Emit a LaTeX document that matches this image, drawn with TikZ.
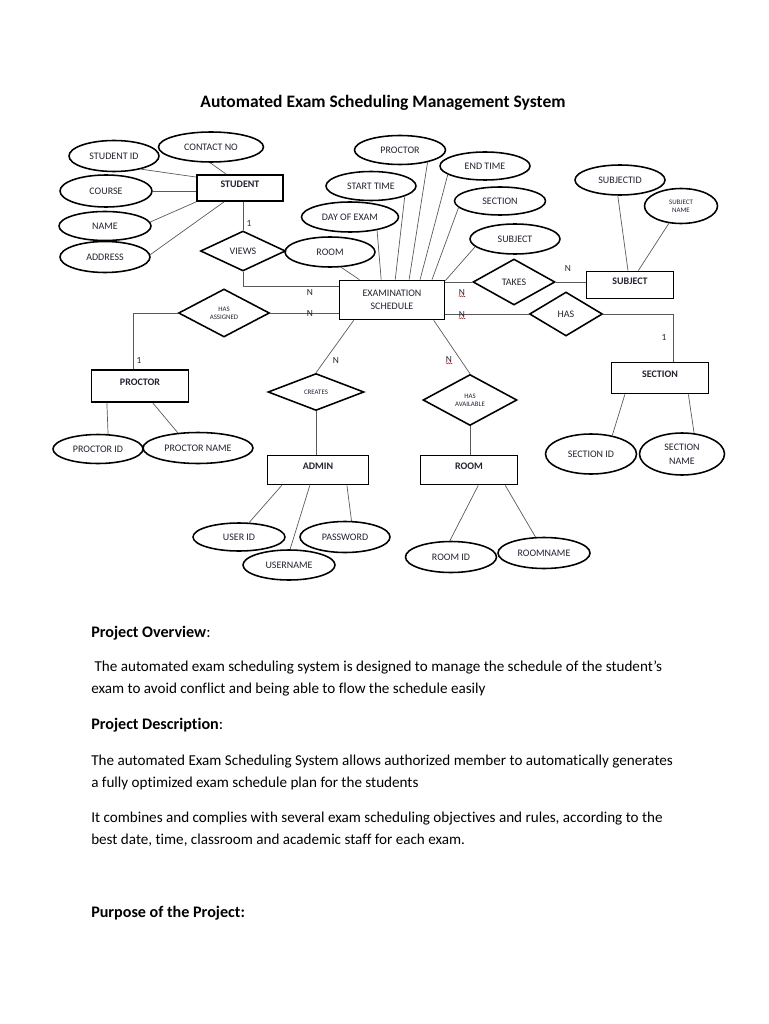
\documentclass[tikz,border=0pt]{standalone}
\usepackage{fontspec}
\setmainfont{Carlito}[Ligatures=NoCommon]
\usetikzlibrary{shapes.geometric,decorations.pathmorphing}
\definecolor{ink}{RGB}{35,35,50}
\newcommand{\attrfont}{\fontsize{8}{9.5}\selectfont}
\newcommand{\minifont}{\fontsize{5.5}{6.5}\selectfont}
\newcommand{\bodyfont}{\fontsize{12.1}{14}\selectfont}
\newcommand{\headfont}{\fontsize{12.9}{15}\selectfont}

\begin{document}
\begin{tikzpicture}[x=0.8pt,y=-0.8pt,
    sz/.style 2 args={minimum width=#1*0.8pt,minimum height=#2*0.8pt},
    ent/.style={draw, line width=1.4pt, inner sep=0pt, text=ink},
    entity/.style={ent, font=\bfseries\attrfont, text height=5.3pt, text depth=5.8pt},
    attr/.style={draw, ellipse, line width=1.25pt, inner sep=0pt, text=ink, font=\attrfont},
    rel/.style={draw, diamond, line width=1.25pt, inner sep=0pt, text=ink, font=\attrfont},
    link/.style={draw=black!65, line width=0.55pt},
    card/.style={inner sep=0pt, text=ink, font=\fontsize{7.5}{8}\selectfont},
    spell/.style={draw=red!85!black, line width=0.35pt, decorate,
        decoration={snake, amplitude=0.45pt, segment length=1.6pt}},
    body/.style={anchor=base west, inner sep=0pt, font=\bodyfont},
    head/.style={anchor=base west, inner sep=0pt, font=\headfont}]

    \fill[white] (0,0) rectangle (768,1024);
    \useasboundingbox (0,0) rectangle (768,1024);

    \node[font=\bfseries\fontsize{14}{16}\selectfont] (title) at (383,103)
        {Automated Exam Scheduling Management System};

    % entities
    \node[entity, sz={86}{26}] (student) at (240,188) {STUDENT};
    \node[ent, sz={105}{39}, font=\fontsize{8}{10.4}\selectfont, align=center]
        (exam) at (392,300) {EXAMINATION\\SCHEDULE};
    \node[entity, sz={87}{27}] (subject) at (630,285) {SUBJECT};
    \node[entity, sz={97}{32}] (proctor) at (140,386) {PROCTOR};
    \node[entity, sz={97}{31}] (section) at (660,378) {SECTION};
    \node[entity, sz={101}{29}] (admin) at (318,470) {ADMIN};
    \node[entity, sz={97}{29}] (room) at (469,470) {ROOM};

    % relationships
    \node[rel, sz={85}{40}] (views) at (243,251) {VIEWS};
    \node[rel, sz={91}{48}, font=\minifont, align=center] (assigned) at (224,313) {HAS\\ASSIGNED};
    \node[rel, sz={82}{46}] (takes) at (514,282) {TAKES};
    \node[rel, sz={73}{44}] (has) at (566,314) {HAS};
    \node[rel, sz={96}{37}, font=\minifont] (creates) at (316,392) {CREATES};
    \node[rel, sz={94}{51}, font=\minifont, align=center] (avail) at (470,400) {HAS\\AVAILABLE};

    % attributes
    \node[attr, sz={90}{31}] (sid) at (114,156) {STUDENT ID};
    \node[attr, sz={105}{30}] (cno) at (211,147) {CONTACT NO};
    \node[attr, sz={92}{32}] (course) at (106,191) {COURSE};
    \node[attr, sz={92}{29}] (name) at (105,226) {NAME};
    \node[attr, sz={90}{31}] (address) at (105,257) {ADDRESS};
    \node[attr, sz={91}{29}] (eproctor) at (400,150) {PROCTOR};
    \node[attr, sz={90}{28}] (etime) at (485,166) {END TIME};
    \node[attr, sz={90}{29}] (stime) at (371,186) {START TIME};
    \node[attr, sz={91}{28}] (esection) at (500,201) {SECTION};
    \node[attr, sz={97}{30}] (day) at (350,217) {DAY OF EXAM};
    \node[attr, sz={90}{30}] (esubject) at (515,239) {SUBJECT};
    \node[attr, sz={90}{30}] (eroom) at (330,252) {ROOM};
    \node[attr, sz={90}{30}] (subid) at (620,180) {SUBJECTID};
    \node[attr, sz={73}{35}, font=\minifont, align=center] (subname) at (681,206) {SUBJECT\\NAME};
    \node[attr, sz={90}{29}] (pid) at (98,449) {PROCTOR ID};
    \node[attr, sz={110}{31}] (pname) at (198,448) {PROCTOR NAME};
    \node[attr, sz={91}{40}] (secid) at (591,454) {SECTION ID};
    \node[attr, sz={85}{42}, font=\fontsize{8}{11}\selectfont, align=center] (secname) at (682,454) {SECTION\\NAME};
    \node[attr, sz={92}{28}] (uid) at (239,537) {USER ID};
    \node[attr, sz={92}{30}] (uname) at (289,565) {USERNAME};
    \node[attr, sz={90}{31}] (pwd) at (345,537) {PASSWORD};
    \node[attr, sz={91}{31}] (rid) at (451,557) {ROOM ID};
    \node[attr, sz={92}{31}] (rname) at (544,553) {ROOMNAME};

    % student side
    \draw[link] (sid.-26) -- (student.166);
    \draw[link] (cno.-93) -- (student.135);
    \draw[link] (course) -- (course -| student.west);
    \draw[link] (name.5) -- (student.south west);
    \draw[link] (address.3) -- (student.221);
    \draw[link] (student.south -| views.north) -- (views.north);
    \draw[link] (views.south) |- (exam.166);

    % exam attributes
    \draw[link] (eroom.-54) -- (exam.148);
    \draw[link] (day.-26) -- (exam.118);
    \draw[link] (stime.-17) -- (exam.81);
    \draw[link] (eproctor.-24) -- (exam.50);
    \draw[link] (etime.193) -- (exam.36);
    \draw[link] (esection.189) -- (exam.27);
    \draw[link] (esubject.191) -- (exam.20);

    % relations of the schedule
    \draw[link] (takes.west -| exam.east) -- (takes.west);
    \draw[link] (takes.east) -- (takes.east -| subject.west);
    \draw[link] (has.west -| exam.east) -- (has.west);
    \draw[link] (has.east) -| (section.50);
    \draw[link] (assigned.east) -- (assigned.east -| exam.west);
    \draw[link] (assigned.west) -| (proctor.111);
    \draw[link] (exam.208) -- (creates.north);
    \draw[link] (creates.south) -- (creates.south |- admin.north);
    \draw[link] (exam.-26) -- (avail.north);
    \draw[link] (avail.south) -- (avail.south |- room.north);

    % other attributes
    \draw[link] (subid.-98) -- (subject.98);
    \draw[link] (subname.235) -- (subject.60);
    \draw[link] (proctor.207) -- (pid.56);
    \draw[link] (proctor.-53) -- (pname.143);
    \draw[link] (section.205) -- (secid.41);
    \draw[link] (section.-30) -- (secname.60);
    \draw[link] (admin.203) -- (uid.55);
    \draw[link] (admin.242) -- (uname.86);
    \draw[link] (admin.-28) -- (pwd.68);
    \draw[link] (room.-59) -- (rid.94);
    \draw[link] (room.-23) -- (rname.118);

    % cardinalities
    \node[card] (c1) at (249,223) {1};
    \node[card] (c2) at (310,292) {N};
    \node[card] (c3) at (310,313) {N};
    \node[card] (c4) at (462,292) {N};
    \node[card] (c5) at (462,314) {N};
    \node[card] (c6) at (568,268) {N};
    \node[card] (c7) at (664,337) {1};
    \node[card] (c8) at (139,360) {1};
    \node[card] (c9) at (336,360) {N};
    \node[card] (c10) at (449,359) {N};
    \draw[spell] ([yshift=-0.8pt]c4.south west) -- ([yshift=-0.8pt]c4.south east);
    \draw[spell] ([yshift=-0.8pt]c5.south west) -- ([yshift=-0.8pt]c5.south east);
    \draw[spell] ([yshift=-0.8pt]c10.south west) -- ([yshift=-0.8pt]c10.south east);

    % text below
    \node[head] (ovh) at (91,637) {\textbf{Project Overview}:};
    \node[body] (ov1) at (91,671) {\hspace*{2.7pt}The automated exam scheduling system is designed to manage the schedule of the student’s};
    \node[body] (ov2) at (91,693) {exam to avoid conflict and being able to flow the schedule easily};
    \node[head] (deh) at (91,729) {\textbf{Project Description}:};
    \node[body] (de1) at (91,765) {The automated Exam Scheduling System allows authorized member to automatically generates};
    \node[body] (de2) at (91,787) {a fully optimized exam schedule plan for the students};
    \node[body] (de3) at (91,822) {It combines and complies with several exam scheduling objectives and rules, according to the};
    \node[body] (de4) at (91,844) {best date, time, classroom and academic staff for each exam.};
    \node[head] (puh) at (91,917) {\textbf{Purpose of the Project:}};
\end{tikzpicture}
\end{document}
